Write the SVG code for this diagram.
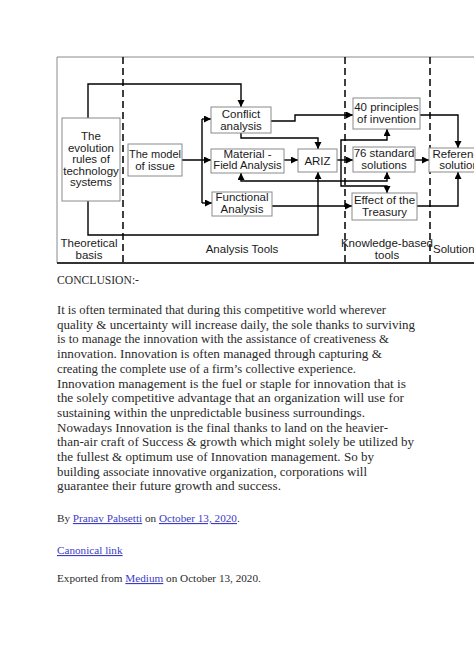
<svg xmlns="http://www.w3.org/2000/svg" width="474" height="670" viewBox="0 0 474 670">
<style>
.box{fill:#fff;stroke:#8a8a8a;stroke-width:1}
.bt{font-family:"Liberation Sans",Arial,sans-serif;font-size:11.5px;fill:#1a1a1a;text-anchor:middle}
.lb{font-family:"Liberation Sans",Arial,sans-serif;font-size:11.5px;fill:#1a1a1a}
.ln{fill:none;stroke:#000;stroke-width:1.4}
.dash{fill:none;stroke:#000;stroke-width:1.5;stroke-dasharray:7 4}
.p{font-family:"Liberation Serif","Times New Roman",serif;font-size:13.5px;fill:#2a2a2a}
.s{font-family:"Liberation Serif","Times New Roman",serif;font-size:11.2px;fill:#2a2a2a}
.a{fill:#3b3bc4;text-decoration:underline}
</style>
<defs>
<marker id="ar" markerUnits="userSpaceOnUse" markerWidth="8" markerHeight="8" refX="7" refY="3.5" orient="auto-start-reverse">
<path d="M0,0 L7,3.5 L0,7 z" fill="#000"/>
</marker>
</defs>
<rect width="474" height="670" fill="#fff"/>
<g id="frame">
<path d="M474,57 H57 V263" fill="none" stroke="#8a8a8a" stroke-width="1"/>
<path d="M57,263 H474" fill="none" stroke="#333" stroke-width="2"/>
<path class="dash" d="M123,57 V263"/>
<path class="dash" d="M345,57 V263"/>
<path class="dash" d="M430,57 V263"/>
</g>
<g id="connectors">
<path class="ln" d="M88,118 V84 H241 V107" marker-end="url(#ar)"/>
<path class="ln" d="M88,201 V235 H318 V172" marker-end="url(#ar)"/>
<path class="ln" d="M182,160 H202 M202,119 V203"/>
<path class="ln" d="M202,119 H211" marker-end="url(#ar)"/>
<path class="ln" d="M202,160 H211" marker-end="url(#ar)"/>
<path class="ln" d="M202,203 H212" marker-end="url(#ar)"/>
<path class="ln" d="M284,160 H298" marker-end="url(#ar)"/>
<path class="ln" d="M241,133 V138 H318 V149" marker-end="url(#ar)"/>
<path class="ln" d="M271,121 H295 V115 H353" marker-end="url(#ar)"/>
<path class="ln" d="M337,160 H353" marker-end="url(#ar)"/>
<path class="ln" d="M341,160 V140 H387 V129" marker-end="url(#ar)"/>
<path class="ln" d="M341,160 V186 H387 V193" marker-end="url(#ar)"/>
<path class="ln" d="M241,173 V181 H387 V172" marker-start="url(#ar)" marker-end="url(#ar)"/>
<path class="ln" d="M272,206 H352" marker-end="url(#ar)"/>
<path class="ln" d="M420,115 H458 V148" marker-end="url(#ar)"/>
<path class="ln" d="M415,160 H429" marker-end="url(#ar)"/>
<path class="ln" d="M417,206 H458 V172" marker-end="url(#ar)"/>
</g>
<g id="evolution">
<rect class="box" x="62" y="118" width="58" height="83"/>
<text class="bt" x="91" y="140">The</text>
<text class="bt" x="91" y="151.5">evolution</text>
<text class="bt" x="91" y="163">rules of</text>
<text class="bt" x="91" y="174.5">technology</text>
<text class="bt" x="91" y="186">systems</text>
</g>
<g id="model">
<rect class="box" x="128" y="144" width="54" height="32"/>
<text class="bt" x="155" y="158" style="font-size:11px">The model</text>
<text class="bt" x="155" y="169.5">of issue</text>
</g>
<g id="conflict">
<rect class="box" x="211" y="107" width="60" height="26"/>
<text class="bt" x="241" y="118">Conflict</text>
<text class="bt" x="241" y="129.5">analysis</text>
</g>
<g id="material">
<rect class="box" x="211" y="149" width="73" height="24"/>
<text class="bt" x="247.5" y="157.5">Material -</text>
<text class="bt" x="247.5" y="169" style="font-size:11.2px">Field Analysis</text>
</g>
<g id="ariz">
<rect class="box" x="298" y="149" width="39" height="23"/>
<text class="bt" x="317.5" y="164.5">ARIZ</text>
</g>
<g id="functional">
<rect class="box" x="212" y="192" width="60" height="24"/>
<text class="bt" x="242" y="201">Functional</text>
<text class="bt" x="242" y="212.5">Analysis</text>
</g>
<g id="principles">
<rect class="box" x="353" y="98" width="67" height="31"/>
<text class="bt" x="386.5" y="111">40 principles</text>
<text class="bt" x="386.5" y="123">of invention</text>
</g>
<g id="standard">
<rect class="box" x="353" y="147" width="62" height="25"/>
<text class="bt" x="384" y="157">76 standard</text>
<text class="bt" x="384" y="169">solutions</text>
</g>
<g id="effect">
<rect class="box" x="352" y="193" width="65" height="27"/>
<text class="bt" x="384.5" y="204">Effect of the</text>
<text class="bt" x="384.5" y="216">Treasury</text>
</g>
<g id="reference">
<rect class="box" x="429" y="148" width="62" height="24"/>
<text class="bt" x="459" y="157.5">Reference</text>
<text class="bt" x="459" y="169">solution</text>
</g>
<g id="labels">
<text class="bt" x="89" y="247">Theoretical</text>
<text class="bt" x="89" y="259">basis</text>
<text class="bt" x="242" y="253">Analysis Tools</text>
<text class="bt" x="387" y="247">Knowledge-based</text>
<text class="bt" x="387" y="259">tools</text>
<text class="lb" x="433" y="253">Solution</text>
</g>
<g id="article">
<text class="p" x="57" y="284" textLength="82" lengthAdjust="spacingAndGlyphs">CONCLUSION:-</text>
<text class="p" x="57" y="314" textLength="329" lengthAdjust="spacingAndGlyphs">It is often terminated that during this competitive world wherever</text>
<text class="p" x="57" y="328.7" textLength="358" lengthAdjust="spacingAndGlyphs">quality &amp; uncertainty will increase daily, the sole thanks to surviving</text>
<text class="p" x="57" y="343.4" textLength="332" lengthAdjust="spacingAndGlyphs">is to manage the innovation with the assistance of creativeness &amp;</text>
<text class="p" x="57" y="358.1" textLength="325" lengthAdjust="spacingAndGlyphs">innovation. Innovation is often managed through capturing &amp;</text>
<text class="p" x="57" y="372.8" textLength="299" lengthAdjust="spacingAndGlyphs">creating the complete use of a firm’s collective experience.</text>
<text class="p" x="57" y="387.5" textLength="349" lengthAdjust="spacingAndGlyphs">Innovation management is the fuel or staple for innovation that is</text>
<text class="p" x="57" y="402.2" textLength="347" lengthAdjust="spacingAndGlyphs">the solely competitive advantage that an organization will use for</text>
<text class="p" x="57" y="416.9" textLength="308" lengthAdjust="spacingAndGlyphs">sustaining within the unpredictable business surroundings.</text>
<text class="p" x="57" y="431.6" textLength="331" lengthAdjust="spacingAndGlyphs">Nowadays Innovation is the final thanks to land on the heavier-</text>
<text class="p" x="57" y="446.3" textLength="357" lengthAdjust="spacingAndGlyphs">than-air craft of Success &amp; growth which might solely be utilized by</text>
<text class="p" x="57" y="461" textLength="317" lengthAdjust="spacingAndGlyphs">the fullest &amp; optimum use of Innovation management. So by</text>
<text class="p" x="57" y="475.7" textLength="310" lengthAdjust="spacingAndGlyphs">building associate innovative organization, corporations will</text>
<text class="p" x="57" y="490.4" textLength="224" lengthAdjust="spacingAndGlyphs">guarantee their future growth and success.</text>
<text class="s" x="57" y="522">By <tspan class="a">Pranav Pabsetti</tspan> on <tspan class="a">October 13, 2020</tspan>.</text>
<text class="s" x="57" y="554"><tspan class="a">Canonical link</tspan></text>
<text class="s" x="57" y="582">Exported from <tspan class="a">Medium</tspan> on October 13, 2020.</text>
</g>
</svg>
